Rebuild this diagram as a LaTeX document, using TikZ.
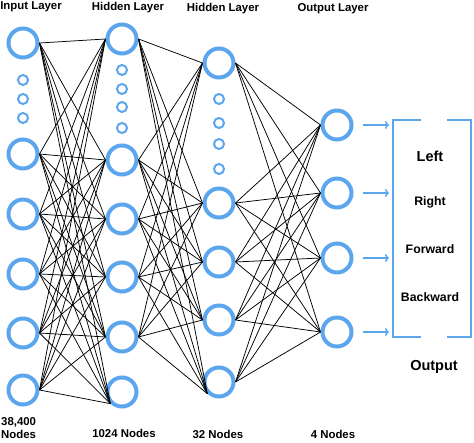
\documentclass[tikz,border=0pt]{standalone}
\usepackage{fontspec}
\setmainfont{Liberation Sans}
\usepackage{tikz}
\usetikzlibrary{arrows.meta}
\definecolor{nnblue}{RGB}{92,166,238}

\begin{document}
\begin{tikzpicture}[x=1pt, y=-1pt,
    neuron/.style={circle, draw=nnblue, line width=4pt, minimum size=29pt, inner sep=0pt},
    dot/.style={circle, draw=nnblue, line width=2pt, minimum size=10pt, inner sep=0pt},
    link/.style={line width=0.75pt, black},
    lbl/.style={font=\bfseries\fontsize{11.4}{12.5}\selectfont, inner sep=0pt},
    big/.style={font=\bfseries\fontsize{14.5}{16}\selectfont, inner sep=0pt},
    mid/.style={font=\bfseries\fontsize{12.3}{14}\selectfont, inner sep=0pt},
    outarrow/.style={draw=nnblue, line width=1.5pt, -{To[length=4pt, width=8pt]}}]

    \useasboundingbox (0, 0) rectangle (474, 443);

    \foreach \n/\y in {1/43, 2/154, 3/214, 4/274, 5/333, 6/390}
        \node[neuron] (i\n) at (23, \y) {};
    \foreach \n/\y in {1/80, 2/99, 3/118}
        \node[dot] (di\n) at (23, \y) {};

    \foreach \n/\y in {1/39, 2/160, 3/219, 4/277, 5/337, 6/392}
        \node[neuron] (h\n) at (122, \y) {};
    \foreach \n/\y in {1/70, 2/89, 3/107, 4/128}
        \node[dot] (dh\n) at (122, \y) {};

    \foreach \n/\y in {1/63, 2/203, 3/262, 4/320, 5/382}
        \node[neuron] (k\n) at (219, \y) {};
    \foreach \n/\y in {1/99, 2/123, 3/144, 4/169}
        \node[dot] (dk\n) at (219, \y) {};

    \foreach \n/\y in {1/125, 2/193, 3/258, 4/332}
        \node[neuron] (o\n) at (337, \y) {};

    \foreach \a in {1,...,6} {
        \foreach \b in {1,...,5}
            \draw[link] (i\a.east) -- (h\b.west);
        \draw[link] (i\a.east) -- (h6.225);
    }
    \foreach \a in {1,...,5} {
        \foreach \b in {1,...,4}
            \draw[link] (h\a.east) -- (k\b.west);
        \draw[link] (h\a.east) -- (k5.225);
    }
    \foreach \a in {1,...,5}
        \foreach \b in {1,...,4}
            \draw[link] (k\a.east) -- (o\b.west);

    \foreach \n/\y in {1/125, 2/193, 3/258, 4/332} {
        \coordinate (t\n) at (389, \y);
        \draw[outarrow, shorten <=9pt] (o\n) -- (t\n);
    }

    \draw[nnblue, line width=1.5pt] (421, 120) -- (393, 120) -- (393, 337) -- (421, 337);
    \draw[nnblue, line width=1.5pt] (447, 120) -- (471, 120) -- (471, 337) -- (447, 337);

    \node[big] (left) at (430, 156) {Left};
    \node[mid] (right) at (430, 202) {Right};
    \node[mid] (fwd) at (430, 249) {Forward};
    \node[mid] (bwd) at (430, 297) {Backward};
    \node[big] (out) at (434, 367) {Output};

    \node[lbl] (l1) at (31, 7) {Input Layer};
    \node[lbl] (l2) at (128, 8) {Hidden Layer};
    \node[lbl] (l3) at (223, 9) {Hidden Layer};
    \node[lbl] (l4) at (333, 9) {Output Layer};

    \node[lbl, align=left, anchor=west] (n1) at (1, 428) {38,400\\Nodes};
    \node[lbl] (n2) at (124, 433) {1024 Nodes};
    \node[lbl] (n3) at (218, 434) {32 Nodes};
    \node[lbl] (n4) at (333, 434) {4 Nodes};
\end{tikzpicture}
\end{document}
